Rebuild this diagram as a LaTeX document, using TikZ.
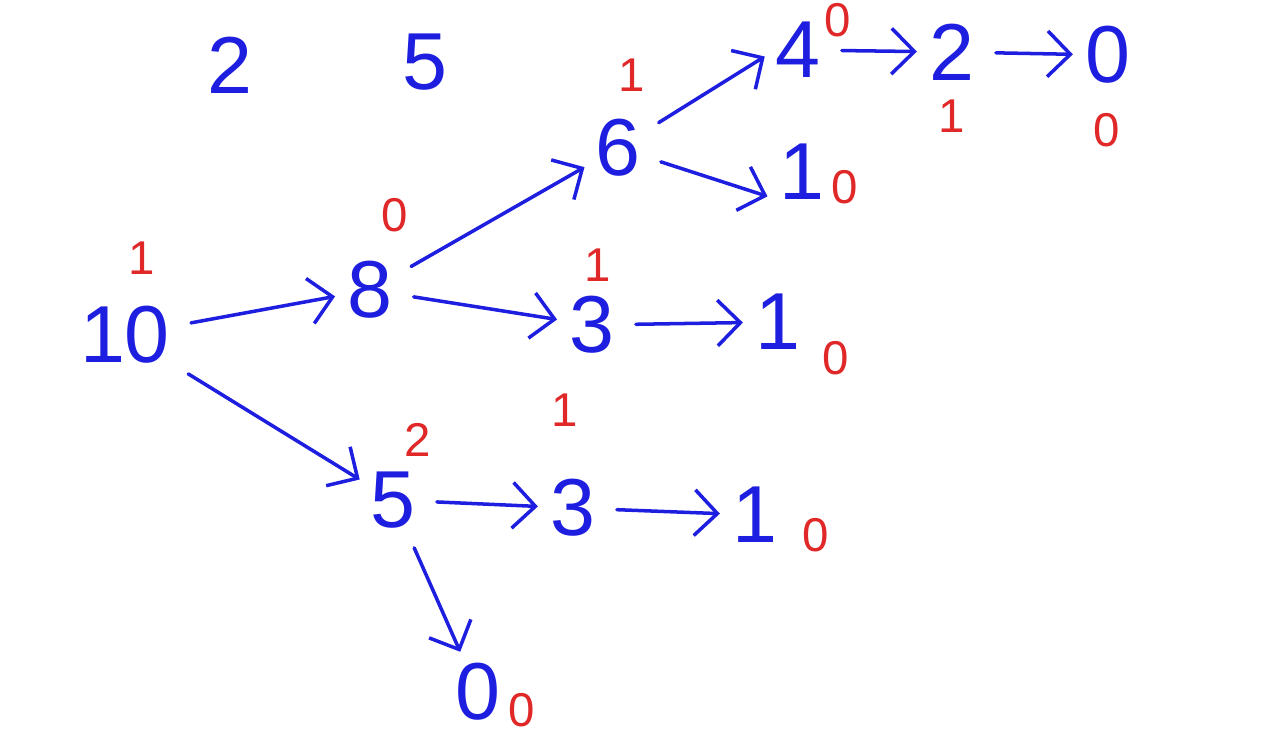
\documentclass[tikz,border=0pt]{standalone}
\usepackage{fontspec}
\setmainfont{Liberation Sans}
\definecolor{inkBlue}{HTML}{1E1EE0}
\definecolor{inkRed}{HTML}{E02828}
\usetikzlibrary{arrows.meta}

\begin{document}
\begin{tikzpicture}[x=0.02cm, y=-0.02cm,
  num/.style={text=inkBlue, font=\fontsize{46}{46}\selectfont, inner sep=0pt},
  val/.style={text=inkRed, font=\fontsize{27}{27}\selectfont, inner sep=0pt},
  arr/.style={inkBlue, line width=2pt, line cap=round,
    -{Straight Barb[length=13pt, width=26pt, line width=2pt]},
    shorten <=12pt, shorten >=7pt}]
  \useasboundingbox (0,0) rectangle (1272,746);
  % moves allowed
  \node[num] (mvA) at (230,65) {2};
  \node[num] (mvB) at (425,62) {5};
  % positions
  \node[num] (p10) at (125,335) {10};
  \node[num] (p8)  at (370,290) {8};
  \node[num] (p6)  at (618,148) {6};
  \node[num] (p4)  at (798,50)  {4};
  \node[num] (p2)  at (952,52)  {2};
  \node[num] (p0)  at (1108,55) {0};
  \node[num] (p1a) at (802,172) {1};
  \node[num] (p3a) at (592,325) {3};
  \node[num] (p1b) at (778,322) {1};
  \node[num] (p5)  at (393,500) {5};
  \node[num] (p3b) at (573,508) {3};
  \node[num] (p1c) at (755,515) {1};
  \node[num] (p0b) at (478,692) {0};
  % grundy values
  \node[val] (g10) at (142,258) {1};
  \node[val] (g8)  at (395,215) {0};
  \node[val] (g6)  at (632,75)  {1};
  \node[val] (g4)  at (838,20)  {0};
  \node[val] (g2)  at (952,116) {1};
  \node[val] (g0)  at (1107,130) {0};
  \node[val] (g1a) at (845,187) {0};
  \node[val] (g3a) at (598,265) {1};
  \node[val] (g1b) at (836,358) {0};
  \node[val] (g5)  at (418,440) {2};
  \node[val] (g3b) at (565,410) {1};
  \node[val] (g1c) at (816,535) {0};
  \node[val] (g0b) at (522,710) {0};
  % moves
  \draw[arr] (p10) -- (p8);
  \draw[arr] (p10) -- (p5);
  \draw[arr] (p8) -- (p6);
  \draw[arr] (p8) -- (p3a);
  \draw[arr] (p6) -- (p4.west);
  \draw[arr] (p6) -- (p1a.south west);
  \draw[arr] (p4) -- (p2);
  \draw[arr] (p2) -- (p0);
  \draw[arr] (p3a) -- (p1b);
  \draw[arr] (p5) -- (p3b);
  \draw[arr] (p3b) -- (p1c);
  \draw[arr] (p5) -- (p0b);
\end{tikzpicture}
\end{document}
